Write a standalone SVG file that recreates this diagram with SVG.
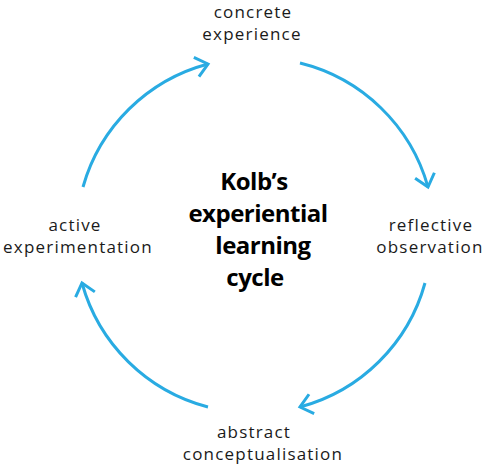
<svg xmlns="http://www.w3.org/2000/svg" width="485" height="470" viewBox="0 0 485 470">
<style>
.lbl{font-family:"Open Sans","Noto Sans",sans-serif;font-size:17px;letter-spacing:1.2px;fill:#1a1a1a;text-anchor:middle}
.ttl{font-family:"Open Sans","Noto Sans",sans-serif;font-size:24px;font-weight:bold;letter-spacing:-0.5px;fill:#000;text-anchor:middle}
.arc{fill:none;stroke:#29abe2;stroke-width:3;marker-end:url(#ah)}
</style>
<defs>
<marker id="ah" markerUnits="userSpaceOnUse" viewBox="-16 -14 20 28" markerWidth="20" markerHeight="28" refX="0" refY="0" orient="auto">
<path d="M-12,-10 L0,0 L-12,10" fill="none" stroke="#29abe2" stroke-width="3"/>
</marker>
</defs>
<rect width="485" height="470" fill="#fff"/>
<g id="connectors">
<path class="arc" d="M83,187 A177,177 0 0,1 208,64"/>
<path class="arc" d="M300,63 A177,177 0 0,1 428,187"/>
<path class="arc" d="M425,283 A177,177 0 0,1 300,407"/>
<path class="arc" d="M208,407 A177,177 0 0,1 82,283"/>
</g>
<g id="title"><text class="ttl"><tspan x="254" y="190">Kolb’s</tspan><tspan x="258" y="222">experiential</tspan><tspan x="263" y="254">learning</tspan><tspan x="255" y="286">cycle</tspan></text></g>
<g id="concrete"><text class="lbl"><tspan x="253" y="18">concrete</tspan><tspan x="252" y="40">experience</tspan></text></g>
<g id="reflective"><text class="lbl"><tspan x="431" y="231">reflective</tspan><tspan x="430" y="253">observation</tspan></text></g>
<g id="abstract"><text class="lbl"><tspan x="254" y="438">abstract</tspan><tspan x="263" y="460">conceptualisation</tspan></text></g>
<g id="active"><text class="lbl"><tspan x="75" y="231">active</tspan><tspan x="78" y="253">experimentation</tspan></text></g>
</svg>
